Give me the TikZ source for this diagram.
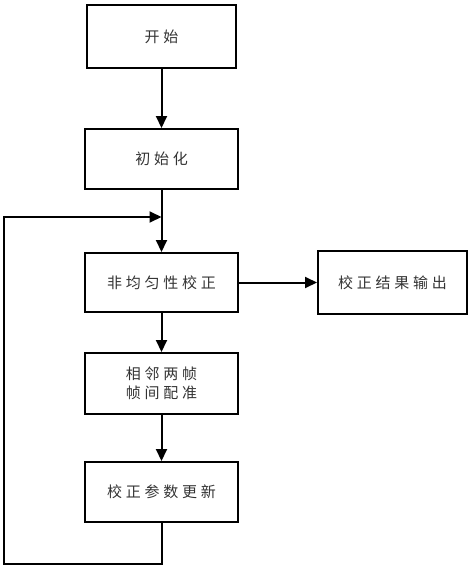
\documentclass[tikz,border=0pt]{standalone}
\usepackage{fontspec}
\newfontfamily\cjk[LetterSpace=25]{Noto Sans CJK SC}
\usetikzlibrary{arrows.meta}

\begin{document}
\begin{tikzpicture}[x=1pt,y=-1pt,
    box/.style={draw,line width=2pt,minimum width=153pt,minimum height=60pt,inner sep=0pt,align=center,text=black!80,font=\cjk\fontsize{15}{19}\selectfont},
    flow/.style={line width=2pt,-{Triangle[length=12pt,width=11pt]}}]

    \useasboundingbox (0,0) rectangle (474,571);

    % start
    \node[box,minimum width=149pt,minimum height=63pt] (start) at (161.5,36.5) {开始};

    % initialisation
    \node[box] (init) at (161.5,159) {初始化};
    \draw[flow](start) to (init);

    %%%%%%%%%%%%%%%%%%%%%%%%%%%%%%%%%%%%%%%%%%%%%%%%%%%%%%%%%

    % non-uniformity correction
    \coordinate (loopin) at (161.5,217);
    \node[box,minimum height=59pt] (nuc) at (161.5,282.5) {非均匀性校正};
    \draw[flow](init) to (nuc);

    % output
    \node[box,minimum width=149pt,minimum height=63pt] (out) at (392.5,282.5) {校正结果输出};
    \draw[flow](nuc) to (out);

    %%%%%%%%%%%%%%%%%%%%%%%%%%%%%%%%%%%%%%%%%%%%%%%%%%%%%%%%%

    % registration of adjacent frames
    \node[box,minimum height=61pt] (reg) at (161.5,383.5) {相邻两帧\\帧间配准};
    \draw[flow](nuc) to (reg);

    % parameter update
    \node[box] (upd) at (161.5,492) {校正参数更新};
    \draw[flow](reg) to (upd);

    % feedback loop
    \coordinate (corner) at (4,564);
    \draw[flow](upd.south) |- (corner) |- (loopin);

\end{tikzpicture}
\end{document}
